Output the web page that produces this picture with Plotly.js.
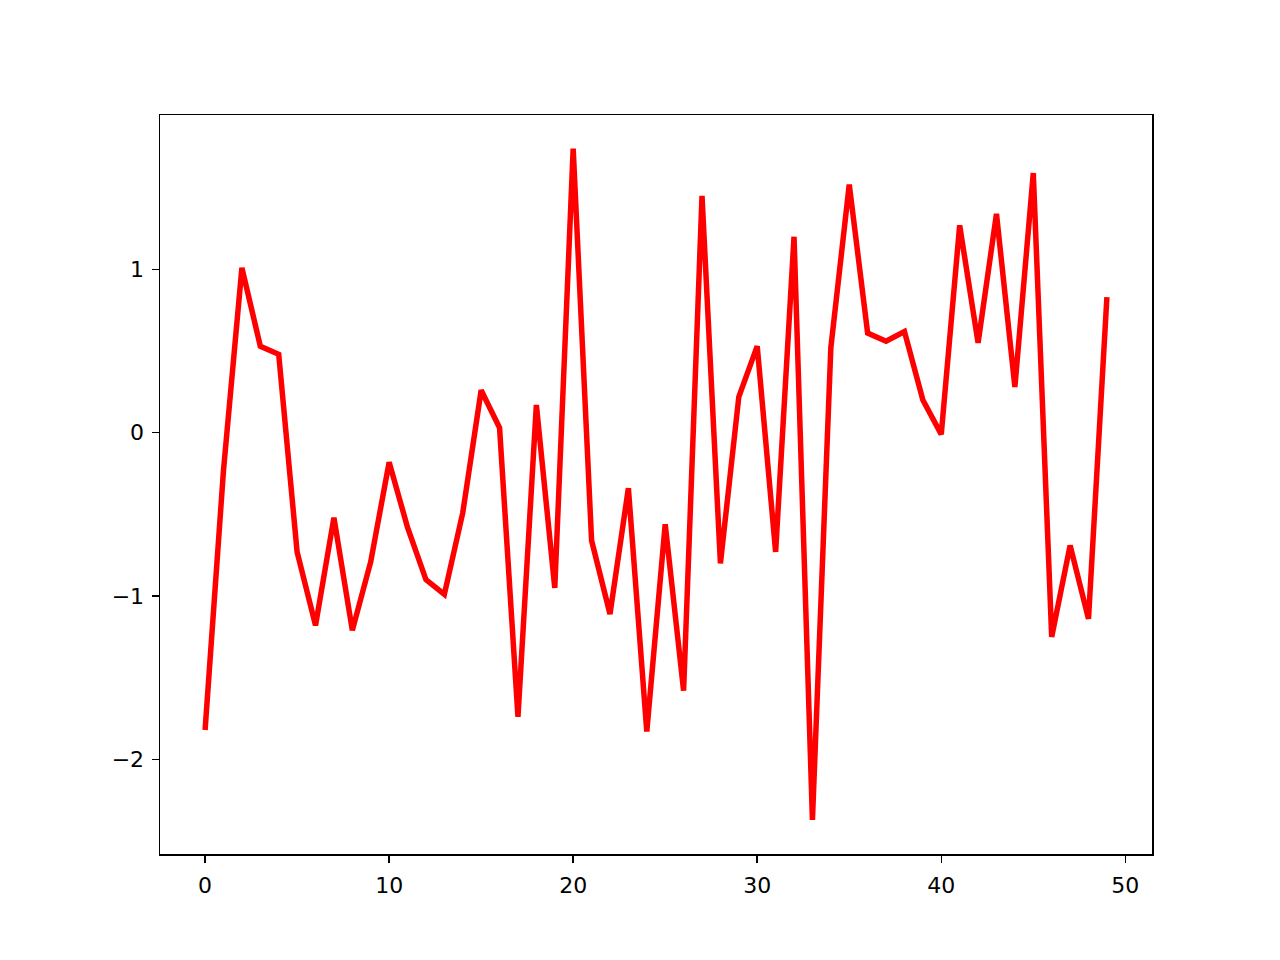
<!DOCTYPE html>
<html>
<head>
<meta charset="utf-8">
<script src="https://cdn.plot.ly/plotly-3.0.1.min.js"></script>
<style>html,body{margin:0;padding:0;background:#fff;}#chart{width:1280px;height:960px;}</style>
</head>
<body>
<div id="chart"></div>
<script>
const xValues = Array.from({length: 50}, (_, i) => i);
const yValues = [
  -1.82, -0.23, 1.01, 0.53, 0.48, -0.73, -1.18, -0.52, -1.21, -0.79,
  -0.18, -0.58, -0.90, -0.99, -0.49, 0.26, 0.03, -1.74, 0.17, -0.95,
  1.74, -0.66, -1.11, -0.34, -1.83, -0.56, -1.58, 1.45, -0.80, 0.22,
  0.53, -0.73, 1.20, -2.37, 0.52, 1.52, 0.61, 0.56, 0.62, 0.20,
  -0.01, 1.27, 0.55, 1.34, 0.28, 1.59, -1.25, -0.69, -1.14, 0.83
];
const xTicks = [0, 10, 20, 30, 40, 50];
const yTicks = [-2, -1, 0, 1];
const yTickLabels = ['\u22122', '\u22121', '0', '1'];

const trace = {
  x: xValues, y: yValues, type: 'scatter', mode: 'lines',
  line: {color: '#ff0000', width: 5.5, shape: 'linear'},
  hoverinfo: 'none'
};
const axisCommon = {
  showgrid: false, zeroline: false, showline: true, mirror: true,
  linecolor: '#000', linewidth: 1.5, ticks: 'outside', ticklen: 7, tickwidth: 1.5,
  tickcolor: '#000', tickfont: {family: 'DejaVu Sans', size: 22, color: '#000'}
};
const layout = {
  width: 1280, height: 960,
  margin: {l: 160, r: 128, t: 115, b: 106},
  paper_bgcolor: '#fff', plot_bgcolor: '#fff',
  showlegend: false,
  xaxis: Object.assign({}, axisCommon, {range: [-2.45, 51.45], tickvals: xTicks, ticktext: xTicks.map(String), ticklabelstandoff: 4}),
  yaxis: Object.assign({}, axisCommon, {range: [-2.5795, 1.9455], tickvals: yTicks, ticktext: yTickLabels, ticklabelstandoff: 3})
};
Plotly.newPlot('chart', [trace], layout, {displayModeBar: false, staticPlot: true});
</script>
</body>
</html>
